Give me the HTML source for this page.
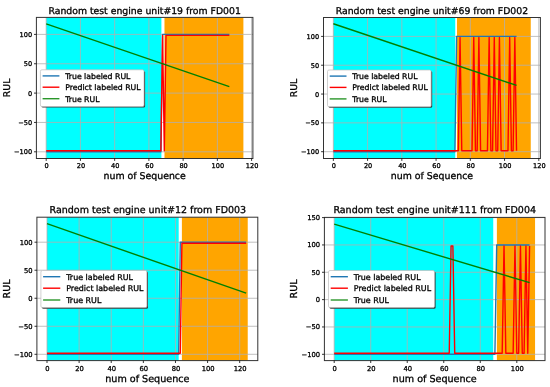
<!DOCTYPE html>
<html><head><meta charset="utf-8"><style>
html,body{margin:0;padding:0;background:#fff;}
svg{display:block;}
text{text-rendering:geometricPrecision;font-family:'DejaVu Sans','Liberation Sans',sans-serif;fill:#000;stroke:#000;stroke-width:0.3px;}
</style></head><body>
<svg width="550" height="387" viewBox="0 0 550 387">
<rect width="550" height="387" fill="#fff"/>
<rect x="46.2" y="17.4" width="115.2" height="141.1" fill="#00ffff"/>
<rect x="164.48" y="17.4" width="78.91" height="141.1" fill="#ffa500"/>
<path d="M46.2 17.4V158.5M80.43 17.4V158.5M114.67 17.4V158.5M148.9 17.4V158.5M183.13 17.4V158.5M217.37 17.4V158.5M251.6 17.4V158.5M36.4 151.8H252.9M36.4 122.45H252.9M36.4 93.1H252.9M36.4 63.75H252.9M36.4 34.4H252.9" stroke="#b0b0b0" stroke-width="0.8" fill="none"/>
<polyline points="46.2,151.8 47.91,151.8 49.62,151.8 51.34,151.8 53.05,151.8 54.76,151.8 56.47,151.8 58.18,151.8 59.89,151.8 61.61,151.8 63.32,151.8 65.03,151.8 66.74,151.8 68.45,151.8 70.16,151.8 71.88,151.8 73.59,151.8 75.3,151.8 77.01,151.8 78.72,151.8 80.43,151.8 82.14,151.8 83.86,151.8 85.57,151.8 87.28,151.8 88.99,151.8 90.7,151.8 92.41,151.8 94.13,151.8 95.84,151.8 97.55,151.8 99.26,151.8 100.97,151.8 102.69,151.8 104.4,151.8 106.11,151.8 107.82,151.8 109.53,151.8 111.24,151.8 112.95,151.8 114.67,151.8 116.38,151.8 118.09,151.8 119.8,151.8 121.51,151.8 123.22,151.8 124.94,151.8 126.65,151.8 128.36,151.8 130.07,151.8 131.78,151.8 133.5,151.8 135.21,151.8 136.92,151.8 138.63,151.8 140.34,151.8 142.05,151.8 143.76,151.8 145.48,151.8 147.19,151.8 148.9,151.8 150.61,151.8 152.32,151.8 154.03,151.8 155.75,151.8 157.46,151.8 159.17,151.8 160.88,151.8 162.59,34.4 164.31,34.4 166.02,34.4 167.73,34.4 169.44,34.4 171.15,34.4 172.86,34.4 174.57,34.4 176.29,34.4 178,34.4 179.71,34.4 181.42,34.4 183.13,34.4 184.84,34.4 186.56,34.4 188.27,34.4 189.98,34.4 191.69,34.4 193.4,34.4 195.12,34.4 196.83,34.4 198.54,34.4 200.25,34.4 201.96,34.4 203.67,34.4 205.38,34.4 207.1,34.4 208.81,34.4 210.52,34.4 212.23,34.4 213.94,34.4 215.65,34.4 217.37,34.4 219.08,34.4 220.79,34.4 222.5,34.4 224.21,34.4 225.92,34.4 227.64,34.4 229.35,34.4" stroke="#1f77b4" stroke-width="1.4" fill="none" stroke-linejoin="round" stroke-linecap="butt"/>
<polyline points="46.2,150.8 47.91,150.8 49.62,150.8 51.34,150.8 53.05,150.8 54.76,150.8 56.47,150.8 58.18,150.8 59.89,150.8 61.61,150.8 63.32,150.8 65.03,150.8 66.74,150.8 68.45,150.8 70.16,150.8 71.88,150.8 73.59,150.8 75.3,150.8 77.01,150.8 78.72,150.8 80.43,150.8 82.14,150.8 83.86,150.8 85.57,150.8 87.28,150.8 88.99,150.8 90.7,150.8 92.41,150.8 94.13,150.8 95.84,150.8 97.55,150.8 99.26,150.8 100.97,150.8 102.69,150.8 104.4,150.8 106.11,150.8 107.82,150.8 109.53,150.8 111.24,150.8 112.95,150.8 114.67,150.8 116.38,150.8 118.09,150.8 119.8,150.8 121.51,150.8 123.22,150.8 124.94,150.8 126.65,150.8 128.36,150.8 130.07,150.8 131.78,150.8 133.5,150.8 135.21,150.8 136.92,150.8 138.63,150.8 140.34,150.8 142.05,150.8 143.76,150.8 145.48,150.8 147.19,150.8 148.9,150.8 150.61,150.8 152.32,150.8 154.03,150.8 155.75,150.8 157.46,150.8 159.17,150.8 160.88,150.8 162.59,35.4 164.31,150.8 166.02,35.4 167.73,35.4 169.44,35.4 171.15,35.4 172.86,35.4 174.57,35.4 176.29,35.4 178,35.4 179.71,35.4 181.42,35.4 183.13,35.4 184.84,35.4 186.56,35.4 188.27,35.4 189.98,35.4 191.69,35.4 193.4,35.4 195.12,35.4 196.83,35.4 198.54,35.4 200.25,35.4 201.96,35.4 203.67,35.4 205.38,35.4 207.1,35.4 208.81,35.4 210.52,35.4 212.23,35.4 213.94,35.4 215.65,35.4 217.37,35.4 219.08,35.4 220.79,35.4 222.5,35.4 224.21,35.4 225.92,35.4 227.64,35.4 229.35,35.4" stroke="#ff0000" stroke-width="1.4" fill="none" stroke-linejoin="round" stroke-linecap="butt"/>
<polyline points="46.2,23.83 229.35,86.64" stroke="#008000" stroke-width="1.4" fill="none" stroke-linejoin="round" stroke-linecap="butt"/>
<rect x="36.4" y="17.4" width="216.5" height="141.1" fill="none" stroke="#333" stroke-width="1.0"/>
<path d="M46.2 158.5v2.4M80.43 158.5v2.4M114.67 158.5v2.4M148.9 158.5v2.4M183.13 158.5v2.4M217.37 158.5v2.4M251.6 158.5v2.4M36.4 151.8h-2.4M36.4 122.45h-2.4M36.4 93.1h-2.4M36.4 63.75h-2.4M36.4 34.4h-2.4" stroke="#000" stroke-width="0.8" fill="none"/>
<text x="46.7" y="167.8" text-anchor="middle" font-size="6.6">0</text>
<text x="80.93" y="167.8" text-anchor="middle" font-size="6.6">20</text>
<text x="115.17" y="167.8" text-anchor="middle" font-size="6.6">40</text>
<text x="149.4" y="167.8" text-anchor="middle" font-size="6.6">60</text>
<text x="183.63" y="167.8" text-anchor="middle" font-size="6.6">80</text>
<text x="217.87" y="167.8" text-anchor="middle" font-size="6.6">100</text>
<text x="252.1" y="167.8" text-anchor="middle" font-size="6.6">120</text>
<text x="32.1" y="154.25" text-anchor="end" font-size="6.6">−100</text>
<text x="32.1" y="124.9" text-anchor="end" font-size="6.6">−50</text>
<text x="32.1" y="95.55" text-anchor="end" font-size="6.6">0</text>
<text x="32.1" y="66.2" text-anchor="end" font-size="6.6">50</text>
<text x="32.1" y="36.85" text-anchor="end" font-size="6.6">100</text>
<text x="144.65" y="13.8" text-anchor="middle" font-size="9.3">Random test engine unit#19 from FD001</text>
<text x="144.65" y="178.8" text-anchor="middle" font-size="9.4">num of Sequence</text>
<text transform="translate(9.6,87.95) rotate(-90)" x="0" y="0" text-anchor="middle" font-size="9.4">RUL</text>
<rect x="41.5" y="70.9" width="103.6" height="36.7" rx="1.5" fill="#3a3a3a"/>
<rect x="40.4" y="69.8" width="103.6" height="36.7" rx="1.5" fill="#fff" stroke="#bdbdbd" stroke-width="0.7"/>
<path d="M42.6 75.9H59.4" stroke="#1f77b4" stroke-width="1.4"/>
<text x="65.2" y="78.8" font-size="7.75">True labeled RUL</text>
<path d="M42.6 87.2H59.4" stroke="#ff0000" stroke-width="1.4"/>
<text x="65.2" y="90.1" font-size="7.75">Predict labeled RUL</text>
<path d="M42.6 98.7H59.4" stroke="#2a962a" stroke-width="1.4"/>
<text x="65.2" y="101.6" font-size="7.75">True RUL</text>
<rect x="333.35" y="17.5" width="121.9" height="141" fill="#00ffff"/>
<rect x="456.96" y="17.5" width="73.79" height="141" fill="#ffa500"/>
<path d="M333.35 17.5V158.5M367.59 17.5V158.5M401.83 17.5V158.5M436.07 17.5V158.5M470.32 17.5V158.5M504.56 17.5V158.5M538.8 17.5V158.5M323.5 151.7H540.4M323.5 122.87H540.4M323.5 94.05H540.4M323.5 65.22H540.4M323.5 36.4H540.4" stroke="#b0b0b0" stroke-width="0.8" fill="none"/>
<polyline points="333.35,151.7 335.06,151.7 336.77,151.7 338.49,151.7 340.2,151.7 341.91,151.7 343.62,151.7 345.33,151.7 347.05,151.7 348.76,151.7 350.47,151.7 352.18,151.7 353.9,151.7 355.61,151.7 357.32,151.7 359.03,151.7 360.74,151.7 362.46,151.7 364.17,151.7 365.88,151.7 367.59,151.7 369.3,151.7 371.02,151.7 372.73,151.7 374.44,151.7 376.15,151.7 377.86,151.7 379.58,151.7 381.29,151.7 383,151.7 384.71,151.7 386.42,151.7 388.14,151.7 389.85,151.7 391.56,151.7 393.27,151.7 394.99,151.7 396.7,151.7 398.41,151.7 400.12,151.7 401.83,151.7 403.55,151.7 405.26,151.7 406.97,151.7 408.68,151.7 410.39,151.7 412.11,151.7 413.82,151.7 415.53,151.7 417.24,151.7 418.95,151.7 420.67,151.7 422.38,151.7 424.09,151.7 425.8,151.7 427.51,151.7 429.23,151.7 430.94,151.7 432.65,151.7 434.36,151.7 436.07,151.7 437.79,151.7 439.5,151.7 441.21,151.7 442.92,151.7 444.64,151.7 446.35,151.7 448.06,151.7 449.77,151.7 451.48,151.7 453.2,151.7 454.91,151.7 456.62,36.4 458.33,36.4 460.04,36.4 461.76,36.4 463.47,36.4 465.18,36.4 466.89,36.4 468.6,36.4 470.32,36.4 472.03,36.4 473.74,36.4 475.45,36.4 477.16,36.4 478.88,36.4 480.59,36.4 482.3,36.4 484.01,36.4 485.73,36.4 487.44,36.4 489.15,36.4 490.86,36.4 492.57,36.4 494.29,36.4 496,36.4 497.71,36.4 499.42,36.4 501.13,36.4 502.85,36.4 504.56,36.4 506.27,36.4 507.98,36.4 509.69,36.4 511.41,36.4 513.12,36.4 514.83,36.4 516.54,36.4" stroke="#1f77b4" stroke-width="1.4" fill="none" stroke-linejoin="round" stroke-linecap="butt"/>
<polyline points="333.35,150.7 335.06,150.7 336.77,150.7 338.49,150.7 340.2,150.7 341.91,150.7 343.62,150.7 345.33,150.7 347.05,150.7 348.76,150.7 350.47,150.7 352.18,150.7 353.9,150.7 355.61,150.7 357.32,150.7 359.03,150.7 360.74,150.7 362.46,150.7 364.17,150.7 365.88,150.7 367.59,150.7 369.3,150.7 371.02,150.7 372.73,150.7 374.44,150.7 376.15,150.7 377.86,150.7 379.58,150.7 381.29,150.7 383,150.7 384.71,150.7 386.42,150.7 388.14,150.7 389.85,150.7 391.56,150.7 393.27,150.7 394.99,150.7 396.7,150.7 398.41,150.7 400.12,150.7 401.83,150.7 403.55,150.7 405.26,150.7 406.97,150.7 408.68,150.7 410.39,150.7 412.11,150.7 413.82,150.7 415.53,150.7 417.24,150.7 418.95,150.7 420.67,150.7 422.38,150.7 424.09,150.7 425.8,150.7 427.51,150.7 429.23,150.7 430.94,150.7 432.65,150.7 434.36,150.7 436.07,150.7 437.79,150.7 439.5,150.7 441.21,150.7 442.92,150.7 444.64,150.7 446.35,150.7 448.06,150.7 449.77,150.7 451.48,150.7 453.2,150.7 454.91,150.7 456.62,150.7 458.33,150.7 460.04,37.4 461.76,150.7 463.47,150.7 465.18,150.7 466.89,150.7 468.6,150.7 470.32,150.7 472.03,150.7 473.74,37.4 475.45,150.7 477.16,150.7 478.88,37.4 480.59,150.7 482.3,150.7 484.01,150.7 485.73,150.7 487.44,150.7 489.15,37.4 490.86,150.7 492.57,150.7 494.29,37.4 496,150.7 497.71,150.7 499.42,37.4 501.13,150.7 502.85,150.7 504.56,150.7 506.27,150.7 507.98,150.7 509.69,37.4 511.41,150.7 513.12,150.7 514.83,37.4 516.54,150.7" stroke="#ff0000" stroke-width="1.4" fill="none" stroke-linejoin="round" stroke-linecap="butt"/>
<polyline points="333.35,23.72 516.54,85.4" stroke="#008000" stroke-width="1.4" fill="none" stroke-linejoin="round" stroke-linecap="butt"/>
<rect x="323.5" y="17.5" width="216.9" height="141" fill="none" stroke="#333" stroke-width="1.0"/>
<path d="M333.35 158.5v2.4M367.59 158.5v2.4M401.83 158.5v2.4M436.07 158.5v2.4M470.32 158.5v2.4M504.56 158.5v2.4M538.8 158.5v2.4M323.5 151.7h-2.4M323.5 122.87h-2.4M323.5 94.05h-2.4M323.5 65.22h-2.4M323.5 36.4h-2.4" stroke="#000" stroke-width="0.8" fill="none"/>
<text x="333.85" y="167.8" text-anchor="middle" font-size="6.6">0</text>
<text x="368.09" y="167.8" text-anchor="middle" font-size="6.6">20</text>
<text x="402.33" y="167.8" text-anchor="middle" font-size="6.6">40</text>
<text x="436.57" y="167.8" text-anchor="middle" font-size="6.6">60</text>
<text x="470.82" y="167.8" text-anchor="middle" font-size="6.6">80</text>
<text x="505.06" y="167.8" text-anchor="middle" font-size="6.6">100</text>
<text x="539.3" y="167.8" text-anchor="middle" font-size="6.6">120</text>
<text x="319.2" y="154.15" text-anchor="end" font-size="6.6">−100</text>
<text x="319.2" y="125.32" text-anchor="end" font-size="6.6">−50</text>
<text x="319.2" y="96.5" text-anchor="end" font-size="6.6">0</text>
<text x="319.2" y="67.67" text-anchor="end" font-size="6.6">50</text>
<text x="319.2" y="38.85" text-anchor="end" font-size="6.6">100</text>
<text x="431.95" y="13.8" text-anchor="middle" font-size="9.3">Random test engine unit#69 from FD002</text>
<text x="431.95" y="178.8" text-anchor="middle" font-size="9.4">num of Sequence</text>
<text transform="translate(296.7,88) rotate(-90)" x="0" y="0" text-anchor="middle" font-size="9.4">RUL</text>
<rect x="328.6" y="71.1" width="103.6" height="36.7" rx="1.5" fill="#3a3a3a"/>
<rect x="327.5" y="70" width="103.6" height="36.7" rx="1.5" fill="#fff" stroke="#bdbdbd" stroke-width="0.7"/>
<path d="M329.7 76.1H346.5" stroke="#1f77b4" stroke-width="1.4"/>
<text x="352.3" y="79" font-size="7.75">True labeled RUL</text>
<path d="M329.7 87.4H346.5" stroke="#ff0000" stroke-width="1.4"/>
<text x="352.3" y="90.3" font-size="7.75">Predict labeled RUL</text>
<path d="M329.7 98.9H346.5" stroke="#2a962a" stroke-width="1.4"/>
<text x="352.3" y="101.8" font-size="7.75">True RUL</text>
<rect x="47" y="217.2" width="131.68" height="143.4" fill="#00ffff"/>
<rect x="181.89" y="217.2" width="65.84" height="143.4" fill="#ffa500"/>
<path d="M47 217.2V360.6M79.12 217.2V360.6M111.23 217.2V360.6M143.35 217.2V360.6M175.47 217.2V360.6M207.58 217.2V360.6M239.7 217.2V360.6M36.9 354.3H257.8M36.9 326.27H257.8M36.9 298.25H257.8M36.9 270.23H257.8M36.9 242.2H257.8" stroke="#b0b0b0" stroke-width="0.8" fill="none"/>
<polyline points="47,354.3 48.61,354.3 50.21,354.3 51.82,354.3 53.42,354.3 55.03,354.3 56.63,354.3 58.24,354.3 59.85,354.3 61.45,354.3 63.06,354.3 64.66,354.3 66.27,354.3 67.88,354.3 69.48,354.3 71.09,354.3 72.69,354.3 74.3,354.3 75.91,354.3 77.51,354.3 79.12,354.3 80.72,354.3 82.33,354.3 83.93,354.3 85.54,354.3 87.15,354.3 88.75,354.3 90.36,354.3 91.96,354.3 93.57,354.3 95.17,354.3 96.78,354.3 98.39,354.3 99.99,354.3 101.6,354.3 103.2,354.3 104.81,354.3 106.42,354.3 108.02,354.3 109.63,354.3 111.23,354.3 112.84,354.3 114.44,354.3 116.05,354.3 117.66,354.3 119.26,354.3 120.87,354.3 122.47,354.3 124.08,354.3 125.69,354.3 127.29,354.3 128.9,354.3 130.5,354.3 132.11,354.3 133.71,354.3 135.32,354.3 136.93,354.3 138.53,354.3 140.14,354.3 141.74,354.3 143.35,354.3 144.96,354.3 146.56,354.3 148.17,354.3 149.77,354.3 151.38,354.3 152.99,354.3 154.59,354.3 156.2,354.3 157.8,354.3 159.41,354.3 161.01,354.3 162.62,354.3 164.23,354.3 165.83,354.3 167.44,354.3 169.04,354.3 170.65,354.3 172.25,354.3 173.86,354.3 175.47,354.3 177.07,354.3 178.68,354.3 180.28,242.2 181.89,242.2 183.5,242.2 185.1,242.2 186.71,242.2 188.31,242.2 189.92,242.2 191.52,242.2 193.13,242.2 194.74,242.2 196.34,242.2 197.95,242.2 199.55,242.2 201.16,242.2 202.77,242.2 204.37,242.2 205.98,242.2 207.58,242.2 209.19,242.2 210.79,242.2 212.4,242.2 214.01,242.2 215.61,242.2 217.22,242.2 218.82,242.2 220.43,242.2 222.04,242.2 223.64,242.2 225.25,242.2 226.85,242.2 228.46,242.2 230.06,242.2 231.67,242.2 233.28,242.2 234.88,242.2 236.49,242.2 238.09,242.2 239.7,242.2 241.31,242.2 242.91,242.2 244.52,242.2 246.12,242.2" stroke="#1f77b4" stroke-width="1.4" fill="none" stroke-linejoin="round" stroke-linecap="butt"/>
<polyline points="47,353.3 48.61,353.3 50.21,353.3 51.82,353.3 53.42,353.3 55.03,353.3 56.63,353.3 58.24,353.3 59.85,353.3 61.45,353.3 63.06,353.3 64.66,353.3 66.27,353.3 67.88,353.3 69.48,353.3 71.09,353.3 72.69,353.3 74.3,353.3 75.91,353.3 77.51,353.3 79.12,353.3 80.72,353.3 82.33,353.3 83.93,353.3 85.54,353.3 87.15,353.3 88.75,353.3 90.36,353.3 91.96,353.3 93.57,353.3 95.17,353.3 96.78,353.3 98.39,353.3 99.99,353.3 101.6,353.3 103.2,353.3 104.81,353.3 106.42,353.3 108.02,353.3 109.63,353.3 111.23,353.3 112.84,353.3 114.44,353.3 116.05,353.3 117.66,353.3 119.26,353.3 120.87,353.3 122.47,353.3 124.08,353.3 125.69,353.3 127.29,353.3 128.9,353.3 130.5,353.3 132.11,353.3 133.71,353.3 135.32,353.3 136.93,353.3 138.53,353.3 140.14,353.3 141.74,353.3 143.35,353.3 144.96,353.3 146.56,353.3 148.17,353.3 149.77,353.3 151.38,353.3 152.99,353.3 154.59,353.3 156.2,353.3 157.8,353.3 159.41,353.3 161.01,353.3 162.62,353.3 164.23,353.3 165.83,353.3 167.44,353.3 169.04,353.3 170.65,353.3 172.25,353.3 173.86,353.3 175.47,353.3 177.07,353.3 178.68,353.3 180.28,353.3 181.89,243.2 183.5,243.2 185.1,243.2 186.71,243.2 188.31,243.2 189.92,243.2 191.52,243.2 193.13,243.2 194.74,243.2 196.34,243.2 197.95,243.2 199.55,243.2 201.16,243.2 202.77,243.2 204.37,243.2 205.98,243.2 207.58,243.2 209.19,243.2 210.79,243.2 212.4,243.2 214.01,243.2 215.61,243.2 217.22,243.2 218.82,243.2 220.43,243.2 222.04,243.2 223.64,243.2 225.25,243.2 226.85,243.2 228.46,243.2 230.06,243.2 231.67,243.2 233.28,243.2 234.88,243.2 236.49,243.2 238.09,243.2 239.7,243.2 241.31,243.2 242.91,243.2 244.52,243.2 246.12,243.2" stroke="#ff0000" stroke-width="1.4" fill="none" stroke-linejoin="round" stroke-linecap="butt"/>
<polyline points="47,223.7 246.12,293.21" stroke="#008000" stroke-width="1.4" fill="none" stroke-linejoin="round" stroke-linecap="butt"/>
<rect x="36.9" y="217.2" width="220.9" height="143.4" fill="none" stroke="#333" stroke-width="1.0"/>
<path d="M47 360.6v2.4M79.12 360.6v2.4M111.23 360.6v2.4M143.35 360.6v2.4M175.47 360.6v2.4M207.58 360.6v2.4M239.7 360.6v2.4M36.9 354.3h-2.4M36.9 326.27h-2.4M36.9 298.25h-2.4M36.9 270.23h-2.4M36.9 242.2h-2.4" stroke="#000" stroke-width="0.8" fill="none"/>
<text x="47.5" y="370.8" text-anchor="middle" font-size="6.75">0</text>
<text x="79.62" y="370.8" text-anchor="middle" font-size="6.75">20</text>
<text x="111.73" y="370.8" text-anchor="middle" font-size="6.75">40</text>
<text x="143.85" y="370.8" text-anchor="middle" font-size="6.75">60</text>
<text x="175.97" y="370.8" text-anchor="middle" font-size="6.75">80</text>
<text x="208.08" y="370.8" text-anchor="middle" font-size="6.75">100</text>
<text x="240.2" y="370.8" text-anchor="middle" font-size="6.75">120</text>
<text x="32.6" y="356.8" text-anchor="end" font-size="6.75">−100</text>
<text x="32.6" y="328.77" text-anchor="end" font-size="6.75">−50</text>
<text x="32.6" y="300.75" text-anchor="end" font-size="6.75">0</text>
<text x="32.6" y="272.73" text-anchor="end" font-size="6.75">50</text>
<text x="32.6" y="244.7" text-anchor="end" font-size="6.75">100</text>
<text x="147.85" y="213.1" text-anchor="middle" font-size="9.5">Random test engine unit#12 from FD003</text>
<text x="147.35" y="381.8" text-anchor="middle" font-size="9.6">num of Sequence</text>
<text transform="translate(9.9,288.9) rotate(-90)" x="0" y="0" text-anchor="middle" font-size="9.6">RUL</text>
<rect x="42" y="271.6" width="106" height="37.1" rx="1.5" fill="#3a3a3a"/>
<rect x="40.9" y="270.5" width="106" height="37.1" rx="1.5" fill="#fff" stroke="#bdbdbd" stroke-width="0.7"/>
<path d="M43.1 276.7H60.3" stroke="#1f77b4" stroke-width="1.4"/>
<text x="66.2" y="279.7" font-size="7.95">True labeled RUL</text>
<path d="M43.1 288.2H60.3" stroke="#ff0000" stroke-width="1.4"/>
<text x="66.2" y="291.2" font-size="7.95">Predict labeled RUL</text>
<path d="M43.1 300H60.3" stroke="#2a962a" stroke-width="1.4"/>
<text x="66.2" y="303" font-size="7.95">True RUL</text>
<rect x="334.2" y="217.4" width="159.04" height="143.2" fill="#00ffff"/>
<rect x="496.9" y="217.4" width="38.16" height="143.2" fill="#ffa500"/>
<path d="M334.2 217.4V360.6M370.72 217.4V360.6M407.24 217.4V360.6M443.76 217.4V360.6M480.28 217.4V360.6M516.8 217.4V360.6M324.4 354.3H545M324.4 326.96H545M324.4 299.62H545M324.4 272.28H545M324.4 244.94H545M324.4 217.6H545" stroke="#b0b0b0" stroke-width="0.8" fill="none"/>
<polyline points="334.2,354.3 336.03,354.3 337.85,354.3 339.68,354.3 341.5,354.3 343.33,354.3 345.16,354.3 346.98,354.3 348.81,354.3 350.63,354.3 352.46,354.3 354.29,354.3 356.11,354.3 357.94,354.3 359.76,354.3 361.59,354.3 363.42,354.3 365.24,354.3 367.07,354.3 368.89,354.3 370.72,354.3 372.55,354.3 374.37,354.3 376.2,354.3 378.02,354.3 379.85,354.3 381.68,354.3 383.5,354.3 385.33,354.3 387.15,354.3 388.98,354.3 390.81,354.3 392.63,354.3 394.46,354.3 396.28,354.3 398.11,354.3 399.94,354.3 401.76,354.3 403.59,354.3 405.41,354.3 407.24,354.3 409.07,354.3 410.89,354.3 412.72,354.3 414.54,354.3 416.37,354.3 418.2,354.3 420.02,354.3 421.85,354.3 423.67,354.3 425.5,354.3 427.33,354.3 429.15,354.3 430.98,354.3 432.8,354.3 434.63,354.3 436.46,354.3 438.28,354.3 440.11,354.3 441.93,354.3 443.76,354.3 445.59,354.3 447.41,354.3 449.24,354.3 451.06,354.3 452.89,354.3 454.72,354.3 456.54,354.3 458.37,354.3 460.19,354.3 462.02,354.3 463.85,354.3 465.67,354.3 467.5,354.3 469.32,354.3 471.15,354.3 472.98,354.3 474.8,354.3 476.63,354.3 478.45,354.3 480.28,354.3 482.11,354.3 483.93,354.3 485.76,354.3 487.58,354.3 489.41,354.3 491.24,354.3 493.06,354.3 494.89,354.3 496.71,244.94 498.54,244.94 500.37,244.94 502.19,244.94 504.02,244.94 505.84,244.94 507.67,244.94 509.5,244.94 511.32,244.94 513.15,244.94 514.97,244.94 516.8,244.94 518.63,244.94 520.45,244.94 522.28,244.94 524.1,244.94 525.93,244.94 527.76,244.94 529.58,244.94" stroke="#1f77b4" stroke-width="1.4" fill="none" stroke-linejoin="round" stroke-linecap="butt"/>
<polyline points="334.2,353.3 336.03,353.3 337.85,353.3 339.68,353.3 341.5,353.3 343.33,353.3 345.16,353.3 346.98,353.3 348.81,353.3 350.63,353.3 352.46,353.3 354.29,353.3 356.11,353.3 357.94,353.3 359.76,353.3 361.59,353.3 363.42,353.3 365.24,353.3 367.07,353.3 368.89,353.3 370.72,353.3 372.55,353.3 374.37,353.3 376.2,353.3 378.02,353.3 379.85,353.3 381.68,353.3 383.5,353.3 385.33,353.3 387.15,353.3 388.98,353.3 390.81,353.3 392.63,353.3 394.46,353.3 396.28,353.3 398.11,353.3 399.94,353.3 401.76,353.3 403.59,353.3 405.41,353.3 407.24,353.3 409.07,353.3 410.89,353.3 412.72,353.3 414.54,353.3 416.37,353.3 418.2,353.3 420.02,353.3 421.85,353.3 423.67,353.3 425.5,353.3 427.33,353.3 429.15,353.3 430.98,353.3 432.8,353.3 434.63,353.3 436.46,353.3 438.28,353.3 440.11,353.3 441.93,353.3 443.76,353.3 445.59,353.3 447.41,353.3 449.24,353.3 451.06,245.94 452.89,245.94 454.72,353.3 456.54,353.3 458.37,353.3 460.19,353.3 462.02,353.3 463.85,353.3 465.67,353.3 467.5,353.3 469.32,353.3 471.15,353.3 472.98,353.3 474.8,353.3 476.63,353.3 478.45,353.3 480.28,353.3 482.11,353.3 483.93,353.3 485.76,353.3 487.58,353.3 489.41,353.3 491.24,353.3 493.06,353.3 494.89,353.3 496.71,353.3 498.54,353.3 500.37,353.3 502.19,353.3 504.02,245.94 505.84,353.3 507.67,353.3 509.5,353.3 511.32,353.3 513.15,353.3 514.97,245.94 516.8,353.3 518.63,353.3 520.45,245.94 522.28,353.3 524.1,353.3 525.93,245.94 527.76,353.3 529.58,245.94" stroke="#ff0000" stroke-width="1.4" fill="none" stroke-linejoin="round" stroke-linecap="butt"/>
<polyline points="334.2,224.16 529.58,282.67" stroke="#008000" stroke-width="1.4" fill="none" stroke-linejoin="round" stroke-linecap="butt"/>
<rect x="324.4" y="217.4" width="220.6" height="143.2" fill="none" stroke="#333" stroke-width="1.0"/>
<path d="M334.2 360.6v2.4M370.72 360.6v2.4M407.24 360.6v2.4M443.76 360.6v2.4M480.28 360.6v2.4M516.8 360.6v2.4M324.4 354.3h-2.4M324.4 326.96h-2.4M324.4 299.62h-2.4M324.4 272.28h-2.4M324.4 244.94h-2.4M324.4 217.6h-2.4" stroke="#000" stroke-width="0.8" fill="none"/>
<text x="334.7" y="370.8" text-anchor="middle" font-size="6.75">0</text>
<text x="371.22" y="370.8" text-anchor="middle" font-size="6.75">20</text>
<text x="407.74" y="370.8" text-anchor="middle" font-size="6.75">40</text>
<text x="444.26" y="370.8" text-anchor="middle" font-size="6.75">60</text>
<text x="480.78" y="370.8" text-anchor="middle" font-size="6.75">80</text>
<text x="517.3" y="370.8" text-anchor="middle" font-size="6.75">100</text>
<text x="320.1" y="356.8" text-anchor="end" font-size="6.75">−100</text>
<text x="320.1" y="329.46" text-anchor="end" font-size="6.75">−50</text>
<text x="320.1" y="302.12" text-anchor="end" font-size="6.75">0</text>
<text x="320.1" y="274.78" text-anchor="end" font-size="6.75">50</text>
<text x="320.1" y="247.44" text-anchor="end" font-size="6.75">100</text>
<text x="320.1" y="220.1" text-anchor="end" font-size="6.75">150</text>
<text x="434.7" y="213.1" text-anchor="middle" font-size="9.5">Random test engine unit#111 from FD004</text>
<text x="434.7" y="381.8" text-anchor="middle" font-size="9.6">num of Sequence</text>
<text transform="translate(297.3,289) rotate(-90)" x="0" y="0" text-anchor="middle" font-size="9.6">RUL</text>
<rect x="329.6" y="271.6" width="106" height="37.1" rx="1.5" fill="#3a3a3a"/>
<rect x="328.5" y="270.5" width="106" height="37.1" rx="1.5" fill="#fff" stroke="#bdbdbd" stroke-width="0.7"/>
<path d="M330.7 276.7H347.9" stroke="#1f77b4" stroke-width="1.4"/>
<text x="353.8" y="279.7" font-size="7.95">True labeled RUL</text>
<path d="M330.7 288.2H347.9" stroke="#ff0000" stroke-width="1.4"/>
<text x="353.8" y="291.2" font-size="7.95">Predict labeled RUL</text>
<path d="M330.7 300H347.9" stroke="#2a962a" stroke-width="1.4"/>
<text x="353.8" y="303" font-size="7.95">True RUL</text>
</svg>
</body></html>
